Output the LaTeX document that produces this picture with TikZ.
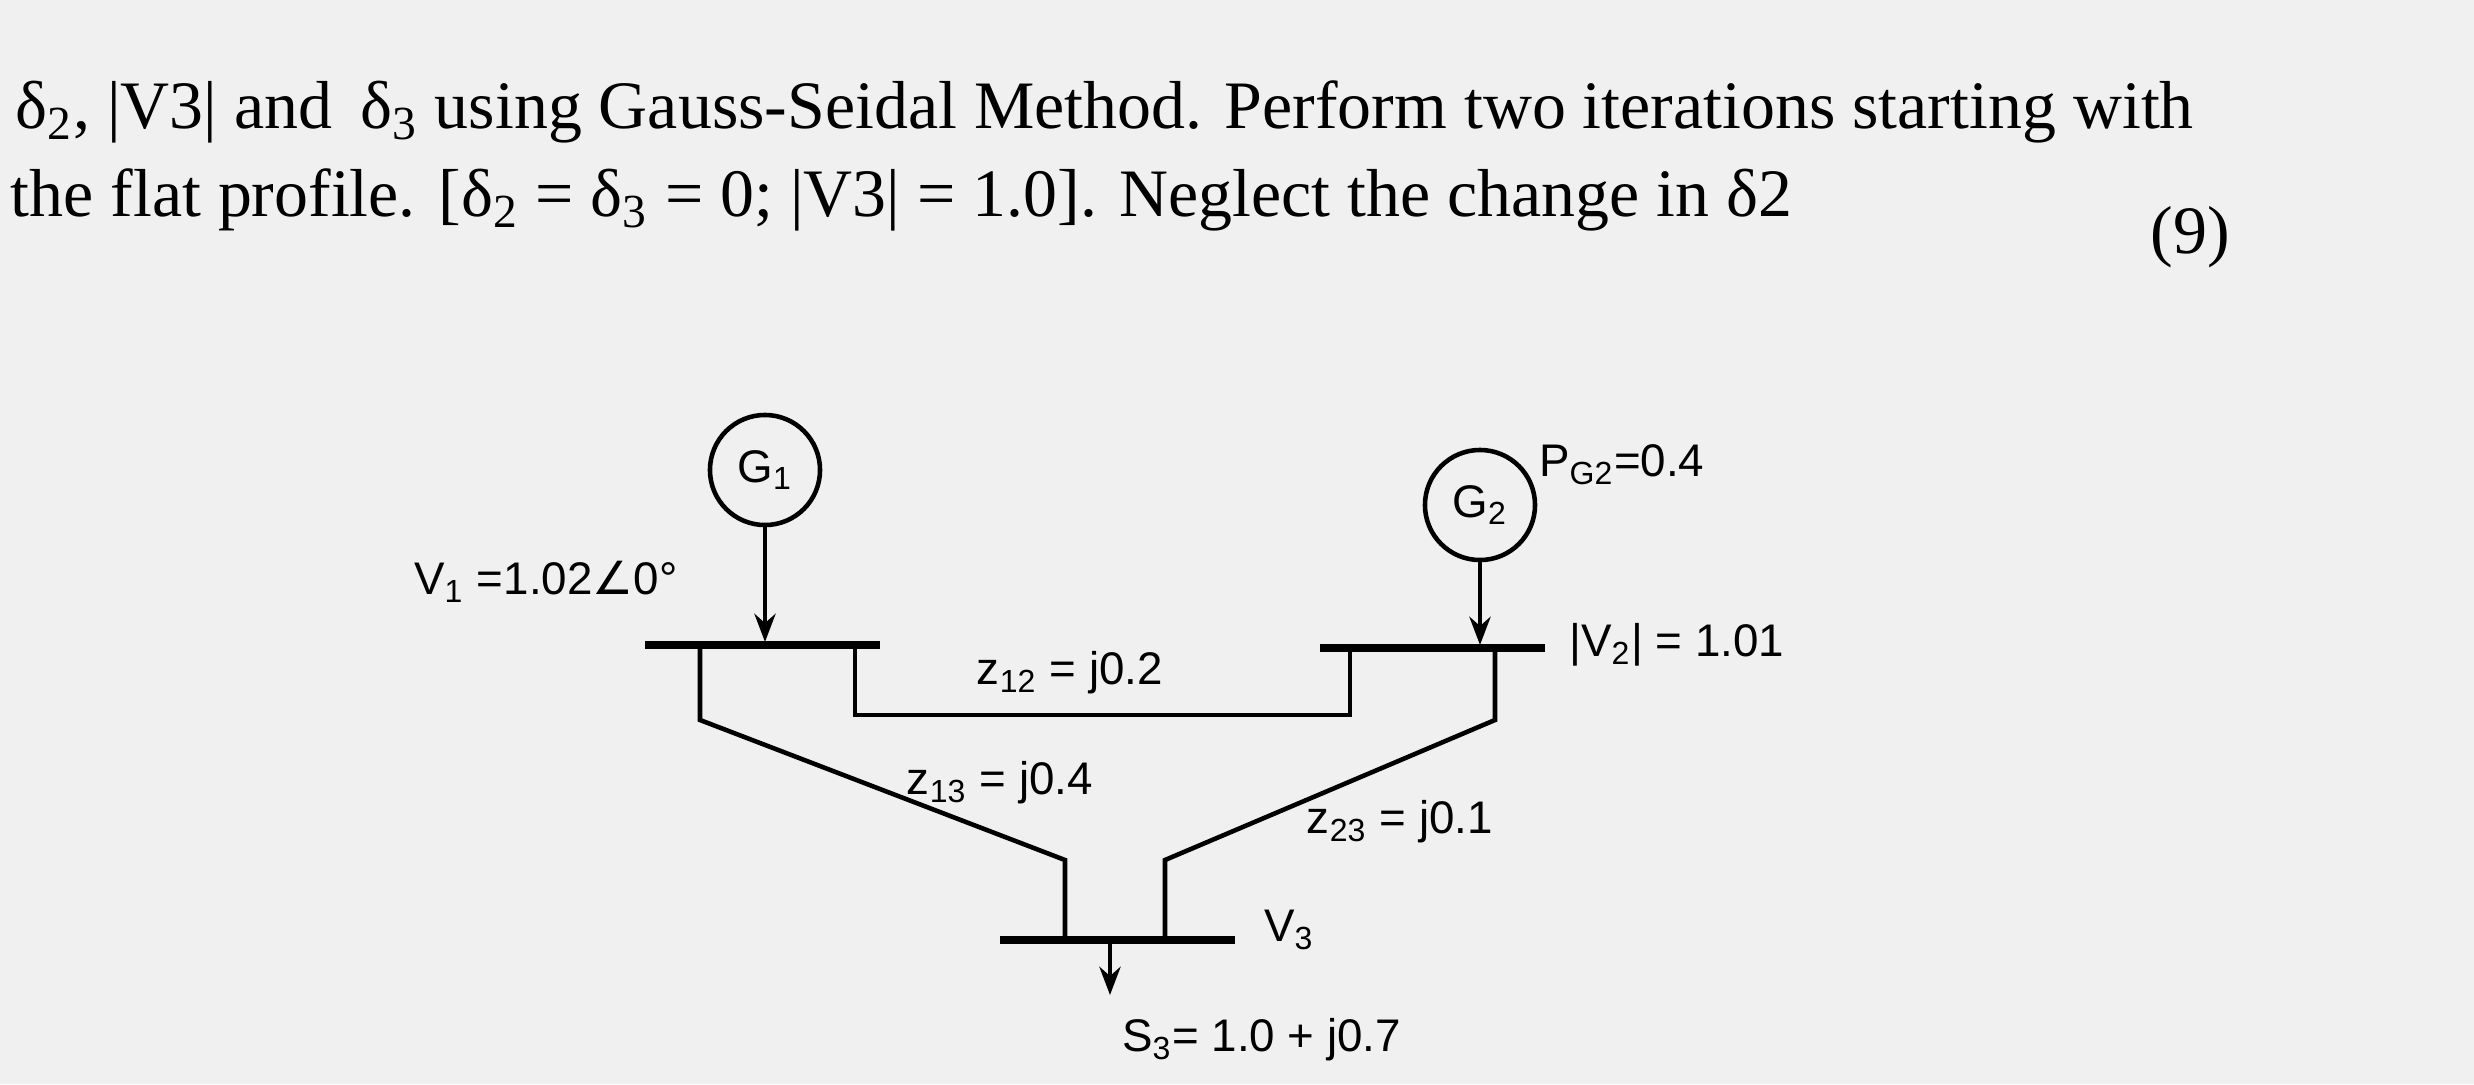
\documentclass[tikz,border=0pt]{standalone}
\usepackage{fontspec}
\setmainfont{Liberation Serif}
\newfontfamily\dia{Liberation Sans}
\newfontfamily\djv{DejaVu Sans}
\usetikzlibrary{arrows.meta}
\begin{document}
\begin{tikzpicture}[x=0.01cm,y=-0.01cm,
  bus/.style={line width=2.2pt},
  ln/.style={line width=1.3pt},
  gen/.style={circle,draw,line width=1.3pt,minimum size=1.1cm,inner sep=0pt,font=\dia\fontsize{13}{15}\selectfont},
  lbl/.style={font=\dia\fontsize{13}{15}\selectfont,inner sep=1pt},
  txt/.style={font=\fontsize{19.3}{22}\selectfont,anchor=west,inner sep=0pt},
  arr/.style={ln,-{Stealth[length=8pt,width=6pt]}}]
\fill[gray!12] (0,0) rectangle (2474,1084);
\useasboundingbox (0,0) rectangle (2474,1084);
\node[txt] (t1) at (15,112) {δ\textsubscript{2}, |V3| and\, δ\textsubscript{3} using Gauss-Seidal Method. Perform two iterations starting with};
\node[txt] (t2) at (10,200) {the flat profile. [δ\textsubscript{2} = δ\textsubscript{3} = 0; |V3| = 1.0]. Neglect the change in δ2};
\node[txt] (t3) at (2150,237) {(9)};
% buses
\coordinate (b1l) at (645,645); \coordinate (b1r) at (880,645);
\coordinate (b2l) at (1320,648); \coordinate (b2r) at (1545,648);
\coordinate (b3l) at (1000,940); \coordinate (b3r) at (1235,940);
\draw[bus] (b1l) -- (b1r);
\draw[bus] (b2l) -- (b2r);
\draw[bus] (b3l) -- (b3r);
% generators
\node[gen] (g1) at (765,470) {G\textsubscript{1}};
\node[gen] (g2) at (1480,505) {G\textsubscript{2}};
\coordinate (g1b) at (765,642); \coordinate (g2b) at (1480,645);
\draw[arr] (g1) -- (g1b);
\draw[arr] (g2) -- (g2b);
% lines
\coordinate (a1) at (855,645); \coordinate (a2) at (1350,648);
\draw[ln] (a1) -- (855,715) -- (1350,715) -- (a2);
\coordinate (c1) at (700,645); \coordinate (c3) at (1065,940);
\draw[ln] (c1) -- (700,720) -- (1065,860) -- (c3);
\coordinate (d2) at (1495,648); \coordinate (d3) at (1165,940);
\draw[ln] (d2) -- (1495,720) -- (1165,860) -- (d3);
% load
\coordinate (l3) at (1110,940); \coordinate (l3e) at (1110,995);
\draw[arr] (l3) -- (l3e);
% labels
\node[lbl,anchor=west] (v1) at (410,582) {V\textsubscript{1} =1.02{\djv∠}0°};
\node[lbl,anchor=west] (pg2) at (1535,465) {P\textsubscript{G2}=0.4};
\node[lbl,anchor=west] (v2) at (1565,645) {|V\textsubscript{2}| = 1.01};
\node[lbl] (z12) at (1070,673) {z\textsubscript{12} = j0.2};
\node[lbl] (z13) at (1000,783) {z\textsubscript{13} = j0.4};
\node[lbl] (z23) at (1400,822) {z\textsubscript{23} = j0.1};
\node[lbl,anchor=west] (v3) at (1260,930) {V\textsubscript{3}};
\node[lbl,anchor=west] (s3) at (1118,1040) {S\textsubscript{3}= 1.0 + j0.7};
\end{tikzpicture}
\end{document}
